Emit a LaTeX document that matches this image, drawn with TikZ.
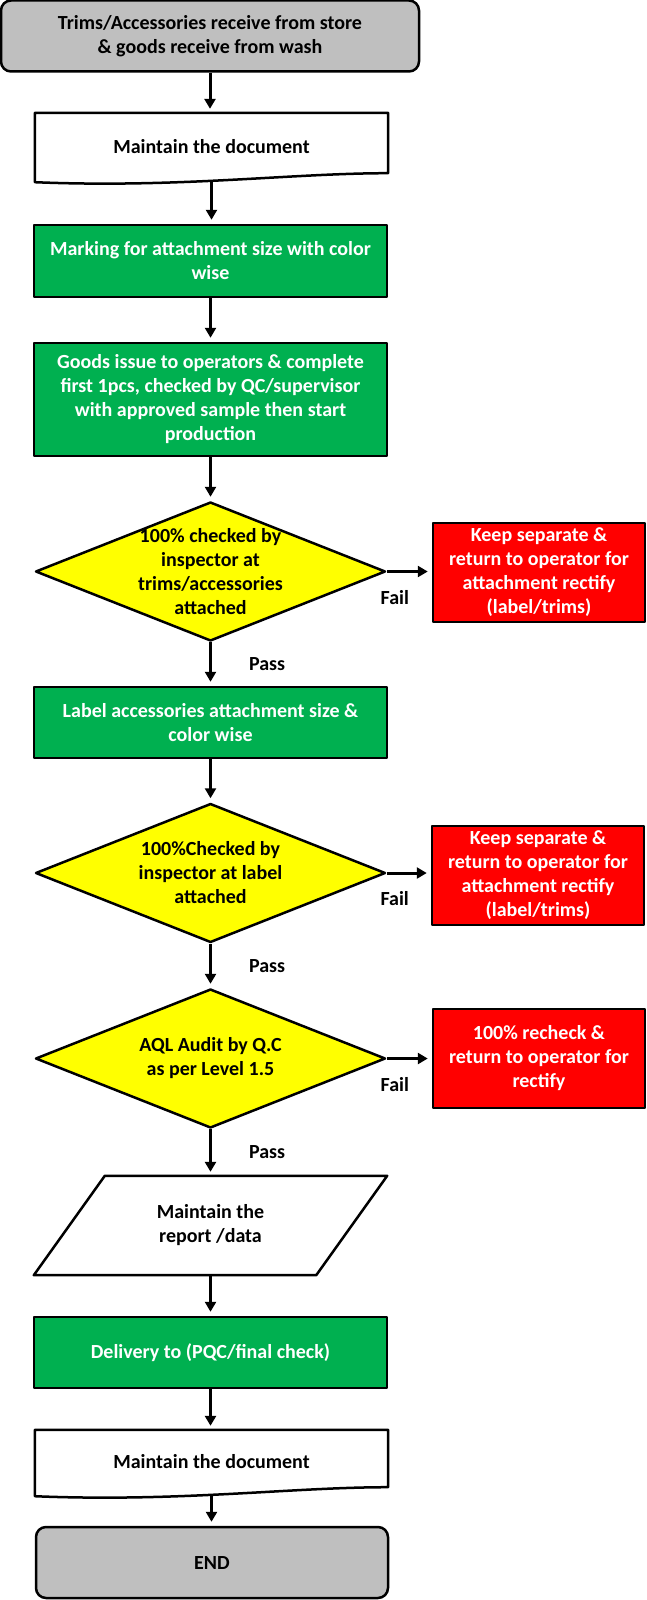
\documentclass[tikz,border=0pt]{standalone}
\usepackage{fontspec}
\setmainfont{Carlito}
\usetikzlibrary{shapes.geometric,arrows.meta,calc}
\definecolor{boxgray}{HTML}{BFBFBF}
\definecolor{boxgreen}{HTML}{00B050}
\definecolor{boxyellow}{HTML}{FFFF00}
\definecolor{boxred}{HTML}{FF0000}
\begin{document}
\begin{tikzpicture}[x=1pt,y=-1pt,line join=round,>={Triangle[length=10pt,width=11pt]}]
 \tikzset{txt/.style={font=\fontsize{20}{24}\selectfont\bfseries,align=center,inner sep=0pt},
  outline/.style={draw=black,line width=2.5pt},
  terminal/.style={txt,outline,fill=boxgray,rounded corners=10pt,minimum height=71},
  process/.style={txt,outline,fill=boxgreen,text=white,minimum width=353},
  reject/.style={txt,outline,fill=boxred,text=white,minimum width=212,minimum height=99},
  decision/.style={outline,fill=boxyellow,diamond,minimum width=350,minimum height=139,inner sep=0pt},
  doc/.style={txt,minimum width=353},
  flow/.style={->,line width=3pt,shorten >=4pt},
  lbl/.style={font=\fontsize{20}{24}\selectfont\bfseries,inner sep=0pt}}
 \def\docline#1{\draw[outline] ($(#1.south west)+(0,2)$) -- (#1.north west) -- (#1.north east) -- ($(#1.south east)+(0,-7)$)
   .. controls ($(#1.south east)+(-98,-7)$) and ($(#1.south west)+(145,8)$) .. ($(#1.south west)+(0,2)$) -- cycle;}
 \useasboundingbox (0,0) rectangle (646,1600);
 % main column
 \node[terminal,minimum width=418] (start) at (210,36) {Trims/Accessories receive from store\\\& goods receive from wash};
 \node[doc,minimum height=67] (doc1) at (211.5,146.5) {Maintain the document};
 \docline{doc1}
 \node[process,minimum height=72] (mark) at (210.5,261) {Marking for attachment size with color\\wise};
 \node[process,minimum height=113] (issue) at (210.5,399.5) {Goods issue to operators \& complete\\first 1pcs, checked by QC/supervisor\\with approved sample then start\\production};
 \node[decision] (chk1) at (210.5,571.5) {};
 \node[txt] (chk1t) at (chk1) {100\% checked by\\inspector at\\trims/accessories\\attached};
 \node[process,minimum height=71] (lab) at (210.5,722.5) {Label accessories attachment size \&\\color wise};
 \node[decision] (chk2) at (210.5,873) {};
 \node[txt] (chk2t) at (chk2) {100\%Checked by\\inspector at label\\attached};
 \node[decision] (aql) at (210.5,1058.5) {};
 \node[txt] (aqlt) at (aql) {AQL Audit by Q.C\\as per Level 1.5};
 \node[txt,minimum width=353,minimum height=99] (rep) at (210.5,1225.5) {Maintain the\\report /data};
 \draw[outline] ($(rep.north west)+(71,0)$) -- (rep.north east) -- ($(rep.south east)+(-71,0)$) -- (rep.south west) -- cycle;
 \node[process,minimum height=71] (dlv) at (210.5,1352.5) {Delivery to (PQC/final check)};
 \node[doc,minimum height=64] (doc2) at (211.5,1462) {Maintain the document};
 \docline{doc2}
 \node[terminal,minimum width=352] (fin) at (212,1562.5) {END};
 % rework boxes
 \node[reject] (r1) at (539,572.5) {Keep separate \&\\return to operator for\\attachment rectify\\(label/trims)};
 \node[reject] (r2) at (538,875.5) {Keep separate \&\\return to operator for\\attachment rectify\\(label/trims)};
 \node[reject] (r3) at (539,1058.5) {100\% recheck \&\\return to operator for\\rectify};
 % connectors
 \foreach \a/\b in {start/doc1,doc1/mark,mark/issue,issue/chk1,lab/chk2,rep/dlv,dlv/doc2,doc2/fin}
  \draw[flow] (\a.south) -- (\a.south |- \b.north);
 \draw[flow] (chk1.south) -- (chk1.south |- lab.north) node[lbl,midway,right=37pt] (p1) {Pass};
 \draw[flow] (chk2.south) -- (chk2.south |- aql.north) node[lbl,midway,right=37pt] (p2) {Pass};
 \draw[flow] (aql.south) -- (aql.south |- rep.north) node[lbl,midway,right=37pt] (p3) {Pass};
 \draw[flow] (chk1.east) -- (r1.west |- chk1.east) node[lbl,pos=0.18,below=17pt] (f1) {Fail};
 \draw[flow] (chk2.east) -- (r2.west |- chk2.east) node[lbl,pos=0.18,below=17pt] (f2) {Fail};
 \draw[flow] (aql.east) -- (r3.west |- aql.east) node[lbl,pos=0.18,below=17pt] (f3) {Fail};
\end{tikzpicture}
\end{document}
